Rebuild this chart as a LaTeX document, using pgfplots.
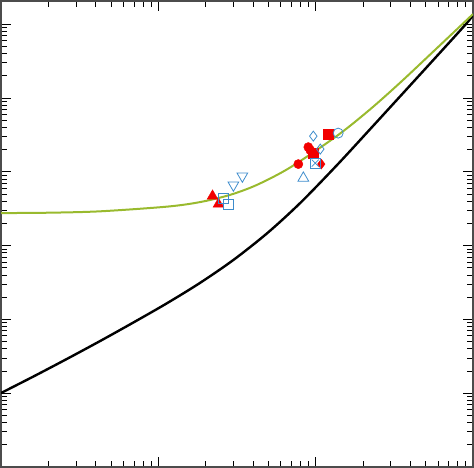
\documentclass[border=0pt]{standalone}
\usepackage{pgfplots}
\pgfplotsset{compat=1.18}
\definecolor{curvegreen}{rgb}{0.60,0.73,0.18}
\definecolor{markblue}{rgb}{0.24,0.55,0.80}
\definecolor{markred}{rgb}{0.95,0.0,0.0}

\begin{document}
\begin{tikzpicture}

\begin{axis}[%
width=472bp,
height=466bp,
scale only axis,
xmode=log,
ymode=log,
xmin=1,
xmax=1000,
ymin=1,
ymax=2.06e6,
xticklabels={},
yticklabels={},
tick align=inside,
major tick length=10bp,
minor tick length=6bp,
every tick/.style={black,line width=0.8bp},
axis line style={black!70,line width=2bp},
clip=true
]
% black reference curve
\addplot [color=black, solid, line width=2.4bp, smooth, tension=0.5]
coordinates {
(1,10.05) (1.62,16.98) (2.66,29.58) (4.31,51.52) (6.97,91.2) (11.46,167.5)
(18.55,315.5) (30.0,638.6) (49.3,1477) (79.9,3789) (137,12395) (222,37850)
(344,105000) (557,323600) (915,1.039e6) (1000,1.35e6)
};

% green fit curve
\addplot [color=curvegreen, solid, line width=2bp, smooth, tension=0.5]
coordinates {
(1,2756) (2.075,2791) (4.31,2915) (11.46,3376) (18.55,3896) (28.7,4877)
(42.6,6683) (69.0,11465) (137,30810) (222,70200) (344,160900)
(557,421900) (1000,1.37e6)
};

% red filled markers
\addplot [only marks, mark=triangle*, mark size=6.2bp, color=markred]
coordinates {(22.1,4688) (24.1,3648)};
\addplot [only marks, mark=*, mark size=4.6bp, color=markred]
coordinates {(77.6,12710) (89.8,21590) (92.4,19660)};
\addplot [only marks, mark=square*, mark size=5bp, color=markred]
coordinates {(120.2,32370) (96.6,17900)};
\addplot [only marks, mark=diamond*, mark size=5bp, color=markred]
coordinates {(108.6,12710)};

% blue open markers
\addplot [only marks, mark=square, mark size=5bp, color=markblue, line width=0.8bp]
coordinates {(25.9,4400) (27.9,3648) (99.4,13110)};
\addplot [only marks, mark=x, mark size=5bp, color=markblue, line width=0.8bp]
coordinates {(99.4,13110)};
\addplot [only marks, mark=triangle, mark size=6.2bp, mark options={rotate=180}, color=markblue, line width=0.8bp]
coordinates {(30.0,6603) (34.2,8739)};
\addplot [only marks, mark=triangle, mark size=6.2bp, color=markblue, line width=0.8bp]
coordinates {(83.5,8210)};
\addplot [only marks, mark=diamond, mark size=5bp, color=markblue, line width=0.8bp]
coordinates {(96.6,30420) (107,20290)};
\addplot [only marks, mark=o, mark size=5bp, color=markblue, line width=0.8bp]
coordinates {(139,33420)};

\end{axis}
\pgfresetboundingbox
\path ([shift={(-1bp,-1bp)}]current axis.south west) rectangle ([shift={(1bp,1bp)}]current axis.north east);
\end{tikzpicture}
\end{document}
